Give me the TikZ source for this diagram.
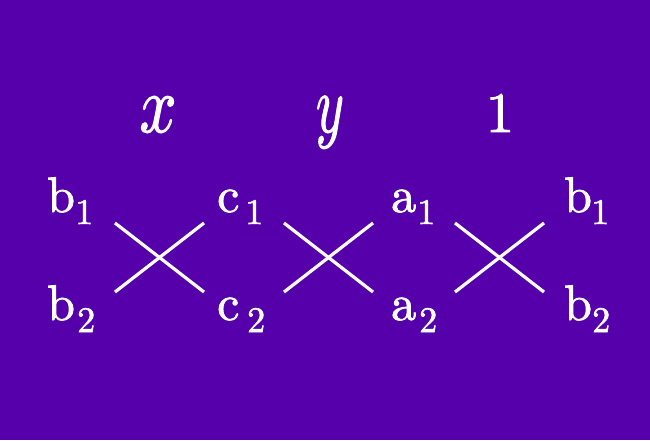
\documentclass[tikz,border=0pt]{standalone}
\usepackage{fontspec}
\newfontfamily\lmten{lmroman10-regular}[Extension=.otf, FakeBold=1.6]
\newfontfamily\lmmath{latinmodern-math}[Extension=.otf, FakeBold=1.6]
\definecolor{bgpurple}{RGB}{85,0,170}
\newcommand\lab[3]{\makebox[#3][l]{#1}\raisebox{-12pt}{\fontsize{36}{38}\selectfont #2}}
\begin{document}
\begin{tikzpicture}[x=1pt,y=-1pt,
  lbl/.style={text=white, inner sep=0pt, anchor=base west, font=\lmten\fontsize{50}{52}\selectfont},
  toplbl/.style={text=white, inner sep=0pt, anchor=base},
  crossline/.style={draw=white, line width=3.2pt}]
\fill[bgpurple] (0,0) rectangle (650,440);
\useasboundingbox (0,0) rectangle (650,440);
% top labels
\node[toplbl, font=\lmmath\fontsize{81}{81}\selectfont] (tx) at (158,132) {\scalebox{0.8}[1]{𝑥}};
\node[toplbl, font=\lmmath\fontsize{82}{82}\selectfont] (ty) at (329,132) {\scalebox{0.65}[1]{𝑦}};
\node[toplbl, font=\lmten\fontsize{57}{57}\selectfont] (t1) at (500,132) {1};
% lower labels
\node[lbl] (b1L) at (47,212) {\lab{b}{1}{28pt}};
\node[lbl] (b2L) at (47,320) {\lab{b}{2}{30pt}};
\node[lbl] (c1) at (217,212) {\lab{c}{1}{28pt}};
\node[lbl] (c2) at (217,320) {\lab{c}{2}{30pt}};
\node[lbl] (a1) at (391,212) {\lab{a}{1}{26pt}};
\node[lbl] (a2) at (391,320) {\lab{a}{2}{28pt}};
\node[lbl] (b1R) at (564,212) {\lab{b}{1}{27pt}};
\node[lbl] (b2R) at (564,320) {\lab{b}{2}{28pt}};
% crosses
\coordinate (p1a) at (115,223); \coordinate (p1b) at (204,292);
\coordinate (p1c) at (115,292); \coordinate (p1d) at (204,223);
\coordinate (p2a) at (284,223); \coordinate (p2b) at (373,292);
\coordinate (p2c) at (284,292); \coordinate (p2d) at (373,223);
\coordinate (p3a) at (455,223); \coordinate (p3b) at (544,292);
\coordinate (p3c) at (455,292); \coordinate (p3d) at (544,223);
\draw[crossline] (p1a) -- (p1b);
\draw[crossline] (p1c) -- (p1d);
\draw[crossline] (p2a) -- (p2b);
\draw[crossline] (p2c) -- (p2d);
\draw[crossline] (p3a) -- (p3b);
\draw[crossline] (p3c) -- (p3d);
\end{tikzpicture}
\end{document}
